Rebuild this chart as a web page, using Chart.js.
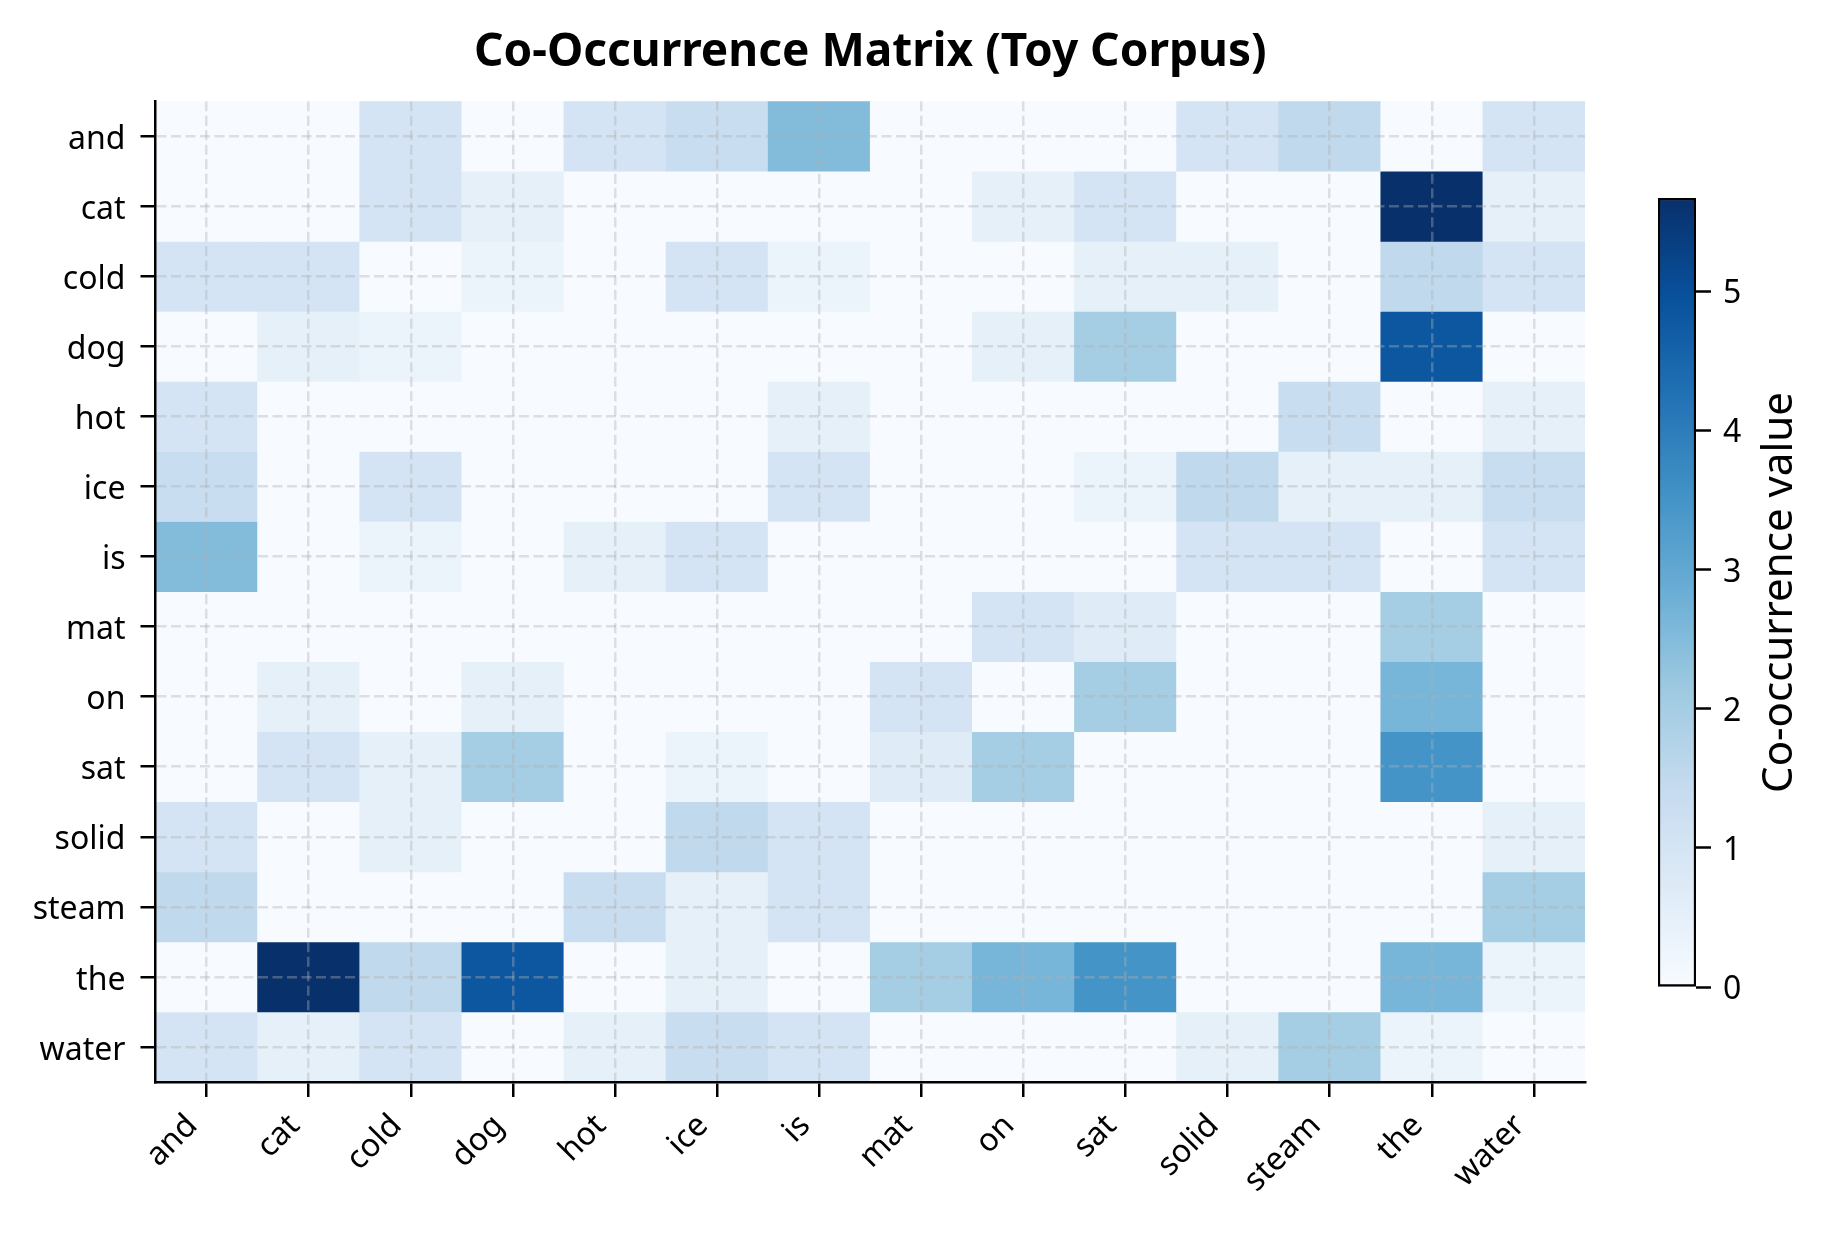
<!DOCTYPE html>
<html>
<head>
<meta charset="utf-8">
<title>Co-Occurrence Matrix (Toy Corpus)</title>
<script src="https://cdn.jsdelivr.net/npm/chart.js@4.4.1/dist/chart.umd.min.js"></script>
<style>
  html, body { margin: 0; padding: 0; background: #fff; }
  #wrap { position: relative; width: 1831px; height: 1234px; }
  #main { position: absolute; left: 0; top: 0; width: 1831px; height: 1234px; }
  #cbar { position: absolute; left: 1600px; top: 0; width: 231px; height: 1234px; }
</style>
</head>
<body>
<div id="wrap">
  <div id="main"><canvas id="heat"></canvas></div>
  <div id="cbar"><canvas id="scale"></canvas></div>
</div>
<script>
// vocabulary, same order on both axes
const words = ['and', 'cat', 'cold', 'dog', 'hot', 'ice', 'is', 'mat', 'on', 'sat', 'solid', 'steam', 'the', 'water'];

// one row per word, columns follow `words`
const rowAnd   = [0,    0,    1,    0,    1,    1.33, 2.5, 0,    0,    0,    1,   1.5,  0,    1];
const rowCat   = [0,    0,    1,    0.5,  0,    0,    0,   0,    0.5,  1,    0,   0,    5.67, 0.5];
const rowCold  = [1,    1,    0,    0.33, 0,    1,    0.33,0,    0,    0.5,  0.5, 0,    1.5,  1];
const rowDog   = [0,    0.5,  0.33, 0,    0,    0,    0,   0,    0.5,  2,    0,   0,    4.83, 0];
const rowHot   = [1,    0,    0,    0,    0,    0,    0.5, 0,    0,    0,    0,   1.33, 0,    0.5];
const rowIce   = [1.33, 0,    1,    0,    0,    0,    1,   0,    0,    0.33, 1.5, 0.5,  0.5,  1.33];
const rowIs    = [2.5,  0,    0.33, 0,    0.5,  1,    0,   0,    0,    0,    1,   1,    0,    1];
const rowMat   = [0,    0,    0,    0,    0,    0,    0,   0,    1,    0.67, 0,   0,    2,    0];
const rowOn    = [0,    0.5,  0,    0.5,  0,    0,    0,   1,    0,    2,    0,   0,    2.67, 0];
const rowSat   = [0,    1,    0.5,  2,    0,    0.33, 0,   0.67, 2,    0,    0,   0,    3.5,  0];
const rowSolid = [1,    0,    0.5,  0,    0,    1.5,  1,   0,    0,    0,    0,   0,    0,    0.5];
const rowSteam = [1.5,  0,    0,    0,    1.33, 0.5,  1,   0,    0,    0,    0,   0,    0,    2];
const rowThe   = [0,    5.67, 1.5,  4.83, 0,    0.5,  0,   2,    2.67, 3.5,  0,   0,    2.67, 0.33];
const rowWater = [1,    0.5,  1,    0,    0.5,  1.33, 1,   0,    0,    0,    0.5, 2,    0.33, 0];

// colorbar tick labels
const cbTicks = [0, 1, 2, 3, 4, 5];

const matrix = [rowAnd, rowCat, rowCold, rowDog, rowHot, rowIce, rowIs,
                rowMat, rowOn, rowSat, rowSolid, rowSteam, rowThe, rowWater];
const vmax = Math.max(...matrix.flat());

// matplotlib "Blues"
const BLUES = [[247,251,255],[222,235,247],[198,219,239],[158,202,225],[107,174,214],
               [66,146,198],[33,113,181],[8,81,156],[8,48,107]];
function blues(t) {
    t = Math.min(1, Math.max(0, t));
    const p = t * (BLUES.length - 1);
    const i = Math.min(Math.floor(p), BLUES.length - 2);
    const f = p - i;
    const c = BLUES[i].map((v, k) => Math.round(v + (BLUES[i + 1][k] - v) * f));
    return 'rgb(' + c.join(',') + ')';
}

Chart.defaults.font.family = "'Noto Sans', sans-serif";
Chart.defaults.color = '#000';

const FONT_TICK = { size: 32 };
const GRID_COLOR = 'rgba(176,176,176,0.38)';

// each row is a dataset of floating bars spanning one unit on the y axis
const datasets = matrix.map((row, r) => ({
    label: words[r],
    data: row.map(() => [r - 0.5, r + 0.5]),
    backgroundColor: row.map(v => blues(v / vmax)),
    borderWidth: 0,
    categoryPercentage: 1,
    barPercentage: 1,
    grouped: false
}));

new Chart(document.getElementById('heat'), {
    type: 'bar',
    data: { labels: words, datasets: datasets },
    options: {
        responsive: true,
        maintainAspectRatio: false,
        animation: false,
        layout: { padding: { left: 0, right: 246, top: 0, bottom: 0 } },
        plugins: {
            legend: { display: false },
            tooltip: { enabled: false },
            title: {
                display: true,
                text: 'Co-Occurrence Matrix (Toy Corpus)',
                fullSize: false,
                font: { size: 46, weight: 'bold' },
                padding: { top: 25, bottom: 21 }
            }
        },
        scales: {
            x: {
                afterFit: s => { s.height = 152; },
                grid: {
                    z: 1,
                    offset: false,
                    color: GRID_COLOR,
                    lineWidth: 2.5,
                    tickLength: 15,
                    tickWidth: 2.5,
                    tickColor: '#000'
                },
                border: { display: true, color: '#000', width: 2.5, dash: [10, 4.5], z: 2 },
                ticks: {
                    autoSkip: false,
                    maxRotation: 45,
                    minRotation: 45,
                    padding: 10,
                    labelOffset: -14,
                    font: FONT_TICK
                }
            },
            y: {
                type: 'linear',
                reverse: true,
                min: -0.5,
                max: words.length - 0.5,
                afterFit: s => { s.width = 155.5; },
                afterBuildTicks: s => { s.ticks = words.map((w, i) => ({ value: i })); },
                grid: {
                    z: 1,
                    color: GRID_COLOR,
                    lineWidth: 2.5,
                    tickLength: 15,
                    tickWidth: 2.5,
                    tickColor: '#000'
                },
                border: { display: true, color: '#000', width: 2.5, dash: [10, 4.5], z: 2 },
                ticks: {
                    padding: 15,
                    labelOffset: 3.5,
                    font: FONT_TICK,
                    callback: v => words[v]
                }
            }
        }
    }
});

// colorbar label, drawn bottom-to-top like matplotlib
const cbLabel = {
    id: 'cbLabel',
    afterDraw(chart) {
        const ctx = chart.ctx;
        const a = chart.chartArea;
        ctx.save();
        ctx.translate(180, (a.top + a.bottom) / 2);
        ctx.rotate(-Math.PI / 2);
        ctx.font = "42px 'Noto Sans', sans-serif";
        ctx.fillStyle = '#000';
        ctx.textAlign = 'center';
        ctx.textBaseline = 'middle';
        ctx.fillText('Co-occurrence value', 0, 0);
        ctx.restore();
    }
};

new Chart(document.getElementById('scale'), {
    type: 'bar',
    data: {
        labels: [''],
        datasets: [{
            data: [[0, vmax]],
            backgroundColor: ctx => {
                const a = ctx.chart.chartArea;
                if (!a) return null;
                const g = ctx.chart.ctx.createLinearGradient(0, a.bottom, 0, a.top);
                BLUES.forEach((c, k) => g.addColorStop(k / (BLUES.length - 1), 'rgb(' + c.join(',') + ')'));
                return g;
            },
            borderColor: '#000',
            borderWidth: 2.5,
            borderSkipped: false,
            categoryPercentage: 1,
            barPercentage: 1
        }]
    },
    options: {
        responsive: true,
        maintainAspectRatio: false,
        animation: false,
        layout: { padding: { left: 58, right: 0, top: 198, bottom: 247 } },
        plugins: { legend: { display: false }, tooltip: { enabled: false } },
        scales: {
            x: { display: false },
            y: {
                position: 'right',
                min: 0,
                max: vmax,
                afterFit: s => { s.width = 135; },
                afterBuildTicks: s => { s.ticks = cbTicks.map(v => ({ value: v })); },
                grid: { drawOnChartArea: false, tickLength: 15, tickWidth: 2.5, tickColor: '#000' },
                border: { display: false },
                ticks: { padding: 12, labelOffset: 3, font: FONT_TICK }
            }
        }
    },
    plugins: [cbLabel]
});
</script>
</body>
</html>
